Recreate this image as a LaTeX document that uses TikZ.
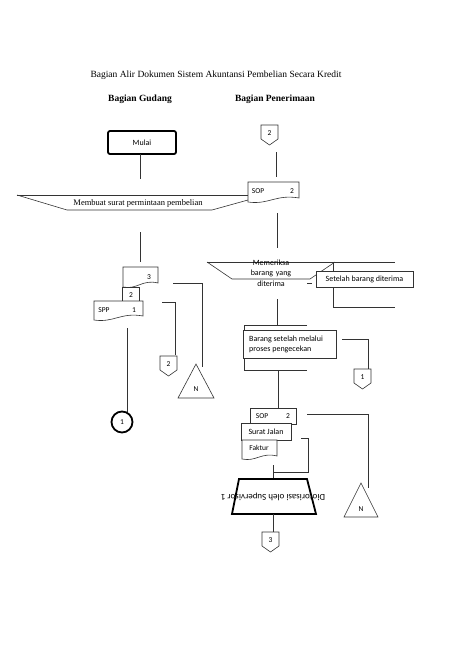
\documentclass[tikz,border=0pt]{standalone}
\usepackage{fontspec}
\setmainfont{Liberation Serif}
\newfontfamily\calfont{Carlito}
\newcommand\offpage[4]{% name, cx, top, label
  \draw[ln] ({#2-8.5},{#3}) -- ({#2+8.5},{#3}) -- ({#2+8.5},{#3+14}) -- ({#2},{#3+20}) -- ({#2-8.5},{#3+14}) -- cycle;
  \node[sm] (#1) at ({#2},{#3+8.5}) {#4};}
\newcommand\docu[6]{% name, x1, y1, x2, y2 (right bottom), left drop
  \draw[ln,fill=white] ({#2},{#3}) -- ({#4},{#3}) -- ({#4},{#5}) .. controls ({#4-(#4-#2)*0.45},{#5-4}) and ({#2+(#4-#2)*0.4},{#5+#6+3}) .. ({#2},{#5+#6}) -- cycle;
  \coordinate (#1) at ({(#2+#4)/2},{#3});}
\begin{document}
\begin{tikzpicture}[x=1pt,y=-1pt,
  ln/.style={draw=black!80,line width=0.6pt},
  sm/.style={font=\calfont\fontsize{7.5}{8.5}\selectfont,inner sep=0pt},
  lab/.style={font=\calfont\fontsize{8}{10}\selectfont,inner sep=0pt},
  ser/.style={font=\fontsize{9.5}{11}\selectfont,inner sep=0pt},
  hdr/.style={font=\bfseries\fontsize{9.5}{11}\selectfont,inner sep=0pt},
  thick box/.style={draw=black,line width=1.8pt}]
\useasboundingbox (0,0) rectangle (474,670);

% headings
\node[ser] (title) at (216,75) {Bagian Alir Dokumen Sistem Akuntansi Pembelian Secara Kredit};
\node[hdr] (gudang) at (140,99) {Bagian Gudang};
\node[hdr] (terima) at (275,99) {Bagian Penerimaan};

% Mulai
\node[thick box,rounded corners=2pt,minimum width=68pt,minimum height=23pt,lab] (mulai) at (142,142.5) {Mulai};
\coordinate (m1) at (140,154);
\coordinate (m2) at (140,179);
\draw[ln] (m1) -- (m2);

% top offpage 2
\offpage{op2a}{269.5}{125}{2}
\coordinate (a1) at (276,152);
\coordinate (a2) at (276,177);
\draw[ln] (a1) -- (a2);

% manual op: membuat surat
\draw[ln] (17,195) -- (248,195);
\draw[ln] (248,200) -- (212,210) -- (67,210) -- (17,195);
\node[font=\fontsize{8.5}{10}\selectfont,inner sep=0pt] (membuat) at (138,203.5) {Membuat surat permintaan pembelian};

% SOP doc 2
\docu{sopa}{248}{182}{299}{198}{4}
\node[sm] (sopat) at (258,191) {SOP};
\node[sm] (sopan) at (292,191) {2};

% left column
\coordinate (b1) at (140,232);
\coordinate (b2) at (140,262);
\draw[ln] (b1) -- (b2);
\docu{doc3}{123}{267}{158}{283}{4}
\node[sm] (doc3t) at (149,277) {3};
\draw[ln,fill=white] (122,287) rectangle (139,301);
\node[sm] (box2) at (131,295) {2};
\docu{spp}{94}{301}{143}{316}{4}
\node[sm] (sppt) at (104,310) {SPP};
\node[sm] (sppn) at (134,310) {1};

\coordinate (c1) at (173,283);
\coordinate (c2) at (202,367);
\draw[ln] (c1) -| (c2);
\coordinate (d1) at (162,302);
\coordinate (d2) at (175,355);
\draw[ln] (d1) -| (d2);
\offpage{op2b}{168.5}{356}{2}

\draw[ln] (196,364) -- (214,398) -- (178,398) -- cycle;
\node[sm] (tn1) at (196,389) {N};

\coordinate (e1) at (127,328);
\coordinate (e2) at (127,411.5);
\draw[ln] (e1) -- (e2);
\node[circle,draw=black,line width=1.8pt,minimum size=21pt,inner sep=0pt,sm] (c1n) at (122,422) {1};

% right column
\coordinate (f1) at (277,213);
\coordinate (f2) at (277,248);
\draw[ln] (f1) -- (f2);

% memeriksa manual op
\draw[ln] (207,262) -- (395,262);
\draw[ln] (207,262) -- (232,279) -- (310,279) -- (335,262);
\coordinate (g1) at (333,262);
\coordinate (g2) at (395,307);
\draw[ln] (g1) |- (g2);
\node[lab,align=center,text width=60pt,font=\calfont\fontsize{8}{10.5}\selectfont] (memeriksa) at (271,273) {Memeriksa\\barang yang\\diterima};
\node[lab,draw=black!80,line width=0.6pt,fill=white,minimum width=97pt,minimum height=16pt] (setelah) at (364.5,279) {Setelah barang diterima};
\draw[ln] (307,283) -- (312,283);

\coordinate (h1) at (277,299);
\coordinate (h2) at (277,326);
\draw[ln] (h1) -- (h2);

% barang setelah
\draw[ln] (307,325) -- (244.5,325) -- (244.5,370) -- (307,370);
\node[lab,draw=black!80,line width=0.6pt,minimum width=93pt,minimum height=28pt,fill=white] (barang) at (289.5,344) {};
\node[lab,align=left,anchor=west] (barangt) at (249,344.5) {Barang setelah melalui\\proses pengecekan};

\coordinate (i1) at (342,339);
\coordinate (i2) at (368,369);
\draw[ln] (i1) -| (i2);
\offpage{op1}{362.5}{369}{1}

\coordinate (j1) at (278,370);
\coordinate (j2) at (278,408);
\draw[ln] (j1) -- (j2);

% document stack
\draw[ln,fill=white] (250,408) rectangle (296,424);
\node[sm] (sopbt) at (262,416) {SOP};
\node[sm] (sopbn) at (288,416) {2};
\node[lab,draw=black!80,line width=0.6pt,fill=white,minimum width=50pt,minimum height=17pt] (surat) at (266,431.5) {Surat Jalan};
\docu{faktur}{242}{440}{277}{456}{3}
\node[sm] (fakt) at (259,447.5) {Faktur};

\coordinate (k1) at (301,438);
\coordinate (k2) at (308,472);
\coordinate (k3) at (273,472);
\draw[ln] (k1) -| (k2) -- (k3);
\coordinate (l1) at (273,465);
\coordinate (l2) at (273,479);
\draw[ln] (l1) -- (l2);

\coordinate (n1) at (307,414);
\coordinate (n2) at (368,488);
\draw[ln] (n1) -| (n2);
\draw[ln] (361,483) -- (378,517) -- (344,517) -- cycle;
\node[sm] (tn2) at (361,509) {N};

% supervisor
\draw[thick box] (239,479) -- (307,479) -- (316,514) -- (232,514) -- cycle;
\node[lab,rotate=180,font=\calfont\fontsize{9}{10}\selectfont] (superv) at (273,496.5) {Diotorisasi oleh Supervisor 1};

\coordinate (p1) at (273,514);
\coordinate (p2) at (273,532);
\draw[ln] (p1) -- (p2);
\offpage{op3}{270.5}{532}{3}
\end{tikzpicture}
\end{document}
